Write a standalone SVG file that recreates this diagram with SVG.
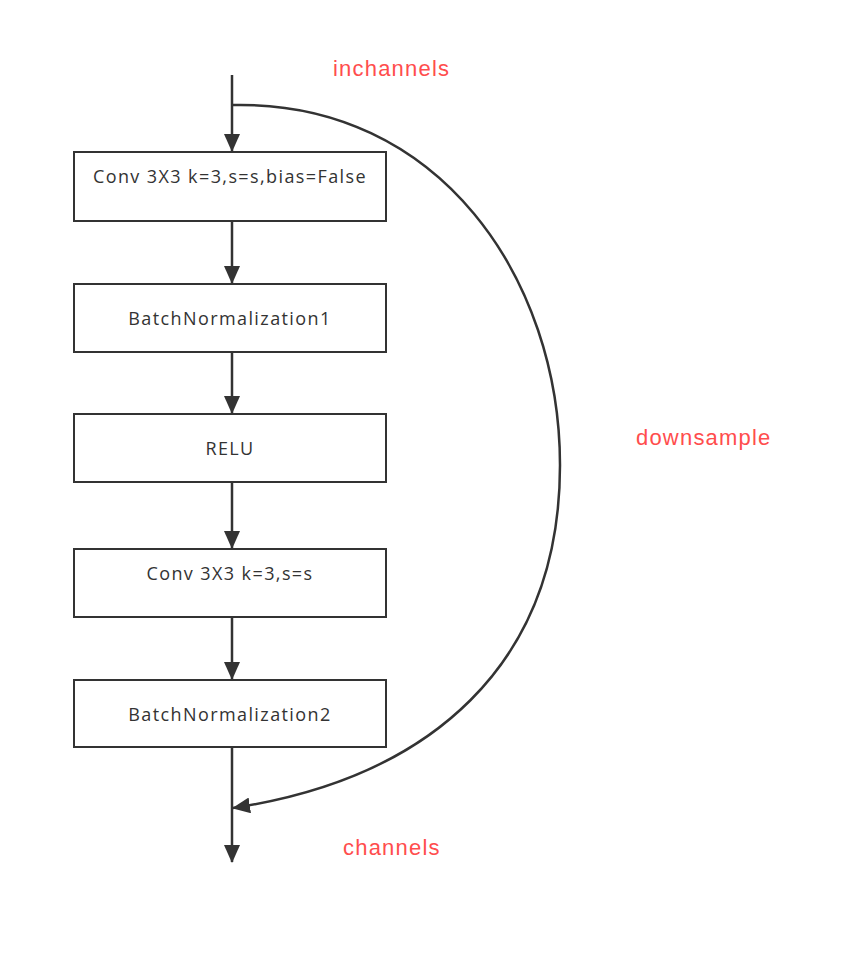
<svg xmlns="http://www.w3.org/2000/svg" width="841" height="956" viewBox="0 0 841 956">
<style>
.box{fill:#fff;stroke:#333;stroke-width:2}
.t{font-family:"Open Sans","Noto Sans",sans-serif;font-size:18px;letter-spacing:1.4px;fill:#333;text-anchor:middle}
.r{font-family:"Liberation Sans",Arial,sans-serif;font-size:22px;letter-spacing:1.2px;fill:#ff4d4d}
.c{stroke:#333;stroke-width:2.5;fill:none}
</style>
<defs>
<marker id="b" markerWidth="18" markerHeight="16" refX="17" refY="8" orient="auto" markerUnits="userSpaceOnUse"><path d="M0,0L18,8L0,16z" fill="#333"/></marker></defs>
<rect width="841" height="956" fill="#fff"/>
<g id="connectors">
<path class="c" d="M232,75V151" marker-end="url(#b)"/>
<path class="c" d="M232,221V283" marker-end="url(#b)"/>
<path class="c" d="M232,352V413" marker-end="url(#b)"/>
<path class="c" d="M232,482V548" marker-end="url(#b)"/>
<path class="c" d="M232,617V679" marker-end="url(#b)"/>
<path class="c" d="M232,747V862" marker-end="url(#b)"/>
<path class="c" d="M232,105C440,100 560,280 560,465C560,665 430,778 233,808" marker-end="url(#b)"/>
</g>
<g id="n1"><rect class="box" x="74" y="152" width="312" height="69"/><text class="t" x="230" y="183">Conv 3X3 k=3,s=s,bias=False</text></g>
<g id="n2"><rect class="box" x="74" y="284" width="312" height="68"/><text class="t" x="230" y="325">BatchNormalization1</text></g>
<g id="n3"><rect class="box" x="74" y="414" width="312" height="68"/><text class="t" x="230" y="455">RELU</text></g>
<g id="n4"><rect class="box" x="74" y="549" width="312" height="68"/><text class="t" x="230" y="580">Conv 3X3 k=3,s=s</text></g>
<g id="n5"><rect class="box" x="74" y="680" width="312" height="67"/><text class="t" x="230" y="721">BatchNormalization2</text></g>
<g id="labels">
<text class="r" x="333" y="76">inchannels</text>
<text class="r" x="636" y="445">downsample</text>
<text class="r" x="343" y="855">channels</text>
</g>
</svg>
